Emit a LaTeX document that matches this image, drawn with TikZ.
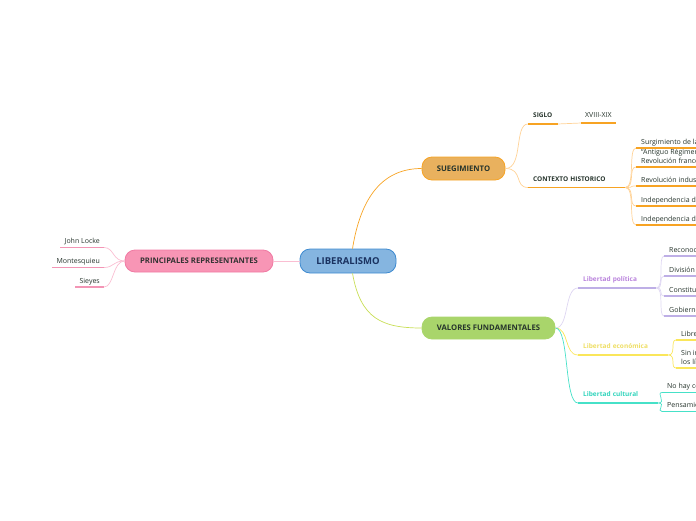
\documentclass[tikz,border=0pt]{standalone}
\usepackage{fontspec}
\setmainfont{Open Sans}
\usepackage{xcolor}
\definecolor{mmtext}{RGB}{38,52,44}
\definecolor{mmnavy}{RGB}{26,50,96}
\definecolor{mmblue}{RGB}{133,181,224}
\definecolor{mmblueline}{RGB}{61,138,208}
\definecolor{mmorange}{RGB}{233,177,94}
\definecolor{mmorangeline}{RGB}{247,163,35}
\definecolor{mmorangelight}{RGB}{255,210,150}
\definecolor{mmpink}{RGB}{248,149,181}
\definecolor{mmpinkline}{RGB}{240,122,163}
\definecolor{mmpinklight}{RGB}{250,190,210}
\definecolor{mmgreen}{RGB}{169,213,107}
\definecolor{mmgreenline}{RGB}{200,222,85}
\definecolor{mmpurple}{RGB}{185,130,220}
\definecolor{mmpurpleline}{RGB}{190,175,230}
\definecolor{mmpurplelight}{RGB}{222,214,242}
\definecolor{mmyellow}{RGB}{238,222,100}
\definecolor{mmyellowline}{RGB}{250,230,90}
\definecolor{mmteal}{RGB}{50,212,188}
\definecolor{mmtealline}{RGB}{70,225,200}

\begin{document}
\begin{tikzpicture}[x=1pt, y=-1pt,
  every node/.style={font=\fontsize{7}{9}\selectfont, text=mmtext},
  topic/.style={rounded corners=10pt, minimum height=23pt, inner sep=2pt,
                line width=0.8pt, font=\fontsize{7.7}{9}\selectfont\bfseries},
  branch/.style={anchor=south west, inner xsep=5pt, inner ysep=0pt, text depth=6pt,
                 align=left, font=\fontsize{6.5}{9}\selectfont\bfseries},
  leaf/.style={anchor=south west, inner xsep=5pt, inner ysep=0pt, text depth=3.5pt,
               align=left},
  leftleaf/.style={anchor=south east, inner xsep=4pt, inner ysep=0pt, text depth=3.5pt},
  link/.style={line width=0.7pt},
  uline/.style={line width=1.1pt},
]
\useasboundingbox (0,0) rectangle (696,520);
\clip (0,0) rectangle (696,520);

% === Central topic and main topics ===
\node[topic, draw=mmblueline, fill=mmblue, minimum width=96pt, minimum height=24pt,
      text=mmnavy, font=\fontsize{9.5}{10}\selectfont\bfseries] (lib) at (348,261) {LIBERALISMO};
\node[topic, draw=mmorangeline, fill=mmorange, minimum width=83pt] (sueg) at (463.5,168.5) {SUEGIMIENTO};
\node[topic, draw=mmpinkline, fill=mmpink, minimum width=148pt, minimum height=22pt,
      text=black!80] (princ) at (199,261) {PRINCIPALES REPRESENTANTES};
\node[topic, draw=mmgreen, fill=mmgreen, minimum width=133pt, minimum height=22pt] (valores) at (488.5,328) {VALORES FUNDAMENTALES};

% === Suegimiento ===
\node[branch] (siglo) at (528,124) {SIGLO};
\node[leaf, text depth=5pt, inner xsep=4pt] (xviii) at (581,123) {XVIII-XIX};
\node[branch, text width=87pt] (contexto) at (528,187.5) {CONTEXTO HISTORICO};
\node[leaf] (c1) at (636,148) {Surgimiento de la burguesía};
\node[leaf] (c2) at (636,167) {“Antiguo Régimen”\\Revolución francesa};
\node[leaf] (c3) at (636,186) {Revolución industrial};
\node[leaf] (c4) at (636,206) {Independencia de Estados Unidos};
\node[leaf] (c5) at (636,225) {Independencia de América Latina};

% === Principales representantes (left) ===
\node[leftleaf] (locke) at (104,247.5) {John Locke};
\node[leftleaf] (montes) at (104,267.5) {Montesquieu};
\node[leftleaf] (sieyes) at (104,287) {Sieyes};

% === Valores fundamentales ===
\node[branch, text width=68pt, text=mmpurple] (lpol) at (578,288) {Libertad política};
\node[leaf] (p1) at (664,256) {Reconocimiento de derechos};
\node[leaf] (p2) at (664,276) {División de poderes};
\node[leaf] (p3) at (664,296) {Constitución};
\node[leaf] (p4) at (664,316) {Gobierno representativo};

\node[branch, text width=80pt, text=mmyellow] (leco) at (578,355) {Libertad económica};
\node[leaf] (e1) at (676,340) {Libre mercado};
\node[leaf] (e2) at (676,368) {Sin intervención\\los límites};

\node[branch, text width=70pt, text=mmteal] (lcul) at (578,403) {Libertad cultural};
\node[leaf] (k1) at (662,392.5) {No hay censura};
\node[leaf] (k2) at (662,411.5) {Pensamiento libre};

% === Connectors: main topics ===
\draw[link, mmorangeline] (lib.70) .. controls +(8,-50) and +(-40,0) .. (sueg.west);
\draw[link, mmgreenline] (lib.-70) .. controls +(8,45) and +(-40,0) .. (valores.west);
\draw[link, mmpinklight] (lib.west) -- (princ.east);

% === Connectors: suegimiento ===
\draw[link, mmorangelight] (sueg.east) .. controls +(18,0) and +(-14,0) .. (siglo.south west);
\draw[link, mmorangelight] (sueg.east) .. controls +(18,0) and +(-14,0) .. (contexto.south west);
\draw[link, mmorangelight] (siglo.south east) .. controls +(12,0) and +(-12,0) .. (xviii.south west);
\draw[link, mmorangelight] (contexto.south east) .. controls +(10,0) and +(-8,0) .. (c1.south west);
\draw[link, mmorangelight] (contexto.south east) .. controls +(10,0) and +(-8,0) .. (c2.south west);
\draw[link, mmorangelight] (contexto.south east) .. controls +(10,0) and +(-8,0) .. (c3.south west);
\draw[link, mmorangelight] (contexto.south east) .. controls +(10,0) and +(-8,0) .. (c4.south west);
\draw[link, mmorangelight] (contexto.south east) .. controls +(10,0) and +(-8,0) .. (c5.south west);

% === Connectors: representantes ===
\draw[link, mmpinklight] (princ.west) .. controls +(-12,0) and +(10,0) .. (locke.south east);
\draw[link, mmpinklight] (princ.west) .. controls +(-12,0) and +(10,0) .. (montes.south east);
\draw[link, mmpinklight] (princ.west) .. controls +(-12,0) and +(10,0) .. (sieyes.south east);

% === Connectors: valores ===
\draw[link, mmpurplelight] (valores.east) .. controls +(14,0) and +(-14,0) .. (lpol.south west);
\draw[link, mmyellowline] (valores.east) .. controls +(14,0) and +(-14,0) .. (leco.south west);
\draw[link, mmtealline] (valores.east) .. controls +(14,0) and +(-14,0) .. (lcul.south west);
\draw[link, mmpurplelight] (lpol.south east) .. controls +(8,0) and +(-6,0) .. (p1.south west);
\draw[link, mmpurplelight] (lpol.south east) .. controls +(8,0) and +(-6,0) .. (p2.south west);
\draw[link, mmpurplelight] (lpol.south east) .. controls +(8,0) and +(-6,0) .. (p3.south west);
\draw[link, mmpurplelight] (lpol.south east) .. controls +(8,0) and +(-6,0) .. (p4.south west);
\draw[link, mmyellowline] (leco.south east) .. controls +(8,0) and +(-6,0) .. (e1.south west);
\draw[link, mmyellowline] (leco.south east) .. controls +(8,0) and +(-6,0) .. (e2.south west);
\draw[link, mmtealline] (lcul.south east) .. controls +(8,0) and +(-6,0) .. (k1.south west);
\draw[link, mmtealline] (lcul.south east) .. controls +(8,0) and +(-6,0) .. (k2.south west);

% === Underlines ===
\draw[uline, mmorangeline] (siglo.south west) -- (siglo.south east);
\draw[uline, mmorangeline] (xviii.south west) -- (xviii.south east);
\draw[uline, mmorangeline] (contexto.south west) -- (contexto.south east);
\draw[uline, mmorangeline] (c1.south west) -- (c1.south east);
\draw[uline, mmorangeline] (c2.south west) -- (c2.south east);
\draw[uline, mmorangeline] (c3.south west) -- (c3.south east);
\draw[uline, mmorangeline] (c4.south west) -- (c4.south east);
\draw[uline, mmorangeline] (c5.south west) -- (c5.south east);
\draw[uline, mmpinkline!80] (locke.south west) -- (locke.south east);
\draw[uline, mmpinkline!80] (montes.south west) -- (montes.south east);
\draw[uline, mmpinkline!80] (sieyes.south west) -- (sieyes.south east);
\draw[uline, mmpurpleline] (lpol.south west) -- (lpol.south east);
\draw[uline, mmpurpleline] (p1.south west) -- (p1.south east);
\draw[uline, mmpurpleline] (p2.south west) -- (p2.south east);
\draw[uline, mmpurpleline] (p3.south west) -- (p3.south east);
\draw[uline, mmpurpleline] (p4.south west) -- (p4.south east);
\draw[uline, mmyellowline] (leco.south west) -- (leco.south east);
\draw[uline, mmyellowline] (e1.south west) -- (e1.south east);
\draw[uline, mmyellowline] (e2.south west) -- (e2.south east);
\draw[uline, mmtealline] (lcul.south west) -- (lcul.south east);
\draw[uline, mmtealline] (k1.south west) -- (k1.south east);
\draw[uline, mmtealline] (k2.south west) -- (k2.south east);

\end{tikzpicture}
\end{document}
